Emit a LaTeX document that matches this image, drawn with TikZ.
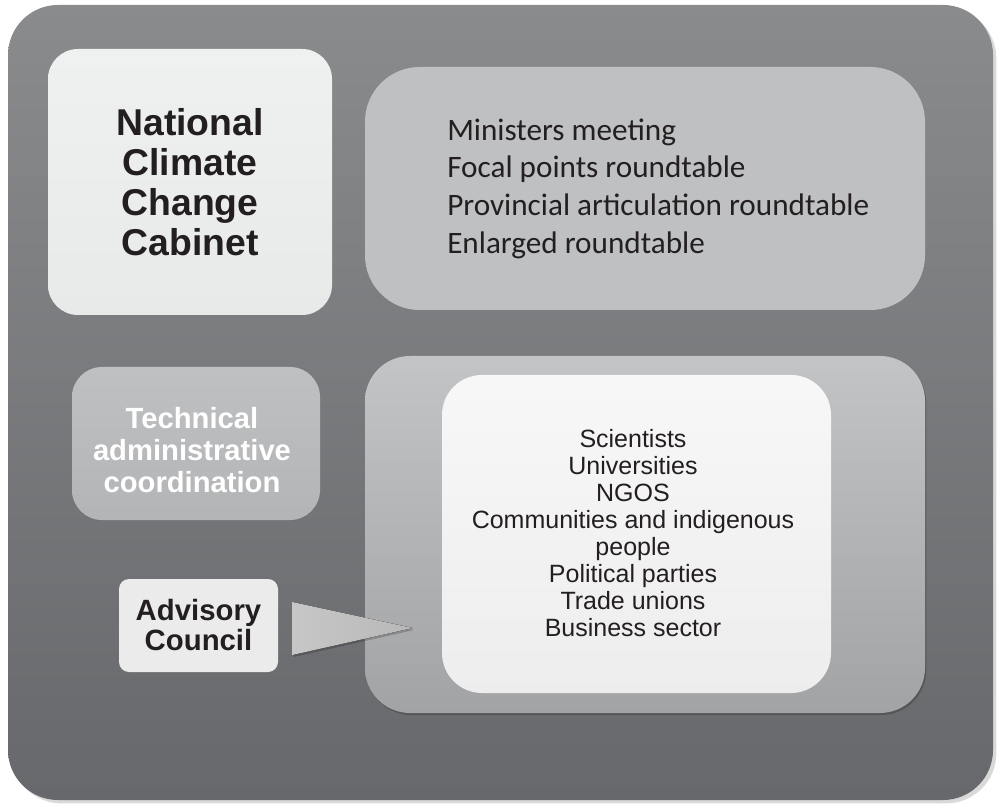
\documentclass[tikz,border=0pt]{standalone}
\usepackage{fontspec}
\setmainfont{Liberation Sans}
\newfontfamily\calfont{Carlito}
\usetikzlibrary{shadows,calc}
\definecolor{outtop}{HTML}{8A8B8D}
\definecolor{outbot}{HTML}{67686B}
\definecolor{panel}{HTML}{BFC0C2}
\definecolor{pale}{HTML}{EFF0F0}
\definecolor{brtop}{HTML}{C3C4C6}
\definecolor{brbot}{HTML}{A2A3A5}
\definecolor{ink}{HTML}{231F20}
\tikzset{
  box/.style={draw=none, rectangle, inner sep=0pt, text=ink},
  shade/.style={drop shadow={shadow xshift=1pt, shadow yshift=-1.5pt, opacity=0.2, fill=black}},
}
\begin{document}
\begin{tikzpicture}[x=0.75pt,y=-0.75pt]
\useasboundingbox (0,0) rectangle (1000,809);
\fill[white] (0,0) rectangle (1000,809);
% outer frame
\node[box, minimum width=738.75pt, minimum height=596.25pt, rounded corners=37.5pt,
  top color=outtop, bottom color=outbot,
  drop shadow={shadow xshift=2.5pt, shadow yshift=-2.5pt, opacity=0.15, fill=black}] (outer) at (500.5,402.5) {};
% National Climate Change Cabinet
\node[box, minimum width=213pt, minimum height=199.5pt, rounded corners=22.5pt,
  top color=pale, bottom color=pale!97!black, align=center,
  font=\fontsize{28}{30}\selectfont\bfseries] (nccc) at (190,182)
  {National\\Climate\\Change\\Cabinet};
% top right panel
\node[box, minimum width=420pt, minimum height=182.25pt, rounded corners=41pt, fill=panel] (tr) at (645,188.5) {};
\node[box, anchor=west, align=left, font=\calfont\fontsize{23.4}{28.2}\selectfont] (trtext) at (447,188.5)
  {Ministers meeting\\Focal points roundtable\\Provincial articulation roundtable\\Enlarged roundtable};
% Technical administrative coordination
\node[box, minimum width=186pt, minimum height=114.75pt, rounded corners=22.5pt,
  top color=panel, bottom color=panel!94!black] (tech) at (196,443.5) {};
\node[box, text=white, align=center, font=\fontsize{21.9}{24}\selectfont\bfseries] (techtext) at (192,450)
  {Technical\\administrative\\coordination};
% bottom right container
\node[box, minimum width=420pt, minimum height=267.75pt, rounded corners=33.75pt,
  top color=brtop, bottom color=brbot, shade] (br) at (645,534.5) {};
% inner white box
\node[box, minimum width=291.75pt, minimum height=238.5pt, rounded corners=30pt,
  top color=white!97!black, bottom color=white!93!black] (inner) at (636.5,534) {};
\node[box, align=center, font=\fontsize{18.75}{20.25}\selectfont] (innertext) at (633,533)
  {Scientists\\Universities\\NGOS\\Communities and indigenous\\people\\Political parties\\Trade unions\\Business sector};
% Advisory Council
\node[box, minimum width=119.25pt, minimum height=69.75pt, rounded corners=7.5pt,
  fill=white!92!black, align=center, font=\fontsize{22}{22.5}\selectfont\bfseries] (adv) at (198.5,625.5)
  {Advisory\\Council};
% arrow
\coordinate (tip) at ($(inner.west)+(-29,94)$);
\fill[left color=white!78!black, right color=white!72!black, shade]
  ($(adv.east)+(14,-23.5)$) -- (tip) -- ($(adv.east)+(14,29.5)$) -- cycle;
\end{tikzpicture}
\end{document}
